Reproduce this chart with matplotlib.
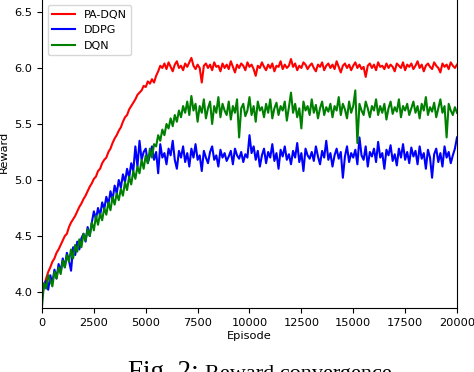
import numpy as np
import matplotlib
matplotlib.use("Agg")
import matplotlib.pyplot as plt

# episodes, one sample every 100 episodes
episodes = np.arange(0, 20001, 100)

# PA-DQN reward
reward_pa_dqn = [
    4.02, 4.06, 4.12, 4.18, 4.22, 4.27, 4.30, 4.35, 4.38, 4.42,
    4.46, 4.50, 4.52, 4.58, 4.62, 4.65, 4.68, 4.72, 4.76, 4.79,
    4.83, 4.86, 4.90, 4.94, 4.97, 5.01, 5.03, 5.08, 5.10, 5.15,
    5.18, 5.20, 5.25, 5.28, 5.33, 5.37, 5.40, 5.44, 5.47, 5.52,
    5.56, 5.58, 5.63, 5.66, 5.69, 5.72, 5.76, 5.78, 5.80, 5.84,
    5.83, 5.88, 5.86, 5.90, 5.87, 5.93, 5.97, 6.02,
    6.00, 6.04, 5.99, 6.05, 6.01, 5.97, 6.03, 6.06, 6.00, 6.02, 5.98, 6.04,
    6.01, 6.05, 6.09, 6.02, 5.99, 6.03, 6.00, 5.87, 6.02, 6.04,
    6.00, 6.03, 5.98, 6.05, 6.01, 6.02, 5.97, 6.04, 6.00, 6.03,
    5.99, 6.06, 6.01, 5.96, 6.03, 6.00, 6.04, 6.02, 5.98, 6.05,
    6.01, 6.03, 5.99, 5.93, 6.02, 6.00, 6.05, 6.01, 5.98, 6.03,
    6.00, 6.04, 5.97, 6.02, 6.01, 6.06, 5.99, 6.03, 6.00, 6.02,
    6.08, 6.01, 6.04, 5.98, 6.02, 6.00, 6.05, 6.03, 5.99, 6.02,
    6.04, 6.00, 5.97, 6.03, 6.01, 6.05, 5.98, 6.02, 6.04, 6.00,
    6.03, 5.99, 6.06, 6.01, 5.96, 6.02, 6.04, 6.00, 6.03, 5.98,
    6.02, 6.05, 6.00, 6.03, 5.99, 6.01, 5.92, 6.02, 6.04, 6.00,
    6.03, 5.98, 6.05, 6.01, 6.02, 5.99, 6.04, 6.00, 6.03, 6.01,
    5.97, 6.04, 6.02, 6.00, 6.05, 5.98, 6.03, 6.01, 6.04, 5.99,
    6.02, 6.06, 6.00, 6.03, 5.97, 6.02, 6.04, 6.01, 5.99, 6.05,
    6.02, 6.00, 5.96, 6.04, 6.01, 6.03, 5.99, 6.05, 6.02, 6.00, 6.03,
]

# DDPG reward
reward_ddpg = [
    3.97, 4.05, 4.10, 4.02, 4.15, 4.08, 4.20, 4.12, 4.25, 4.18,
    4.30, 4.22, 4.35, 4.28, 4.19, 4.40, 4.33, 4.45, 4.38, 4.48,
    4.52, 4.45, 4.58, 4.50, 4.62, 4.72, 4.65, 4.75, 4.68, 4.80,
    4.74, 4.85, 4.78, 4.90, 4.82, 4.95, 4.88, 5.00, 4.93, 5.05,
    4.98, 5.10, 5.02, 5.15, 5.08, 5.30, 5.12, 5.35, 5.18, 5.25,
    5.28, 5.15, 5.22, 5.30, 5.18, 5.25, 5.06, 5.32, 5.20, 5.24,
    5.14, 5.28, 5.22, 5.35, 5.18, 5.10, 5.26, 5.20, 5.30, 5.16,
    5.24, 5.12, 5.28, 5.20, 5.32, 5.18, 5.22, 5.08, 5.26, 5.20,
    5.15, 5.25, 5.30, 5.18, 5.22, 5.12, 5.27, 5.20, 5.24, 5.17,
    5.21, 5.26, 5.14, 5.28, 5.22, 5.19, 5.25, 5.16, 5.23, 5.20,
    5.40, 5.24, 5.30, 5.18, 5.26, 5.12, 5.22, 5.28, 5.15, 5.25,
    5.20, 5.32, 5.17, 5.24, 5.10, 5.27, 5.21, 5.30, 5.18, 5.23,
    5.14, 5.26, 5.20, 5.33, 5.16, 5.24, 5.08, 5.28, 5.22, 5.19,
    5.25, 5.17, 5.30, 5.21, 5.14, 5.26, 5.20, 5.35, 5.18, 5.24,
    5.12, 5.22, 5.28, 5.19, 5.25, 5.02, 5.21, 5.30, 5.16, 5.24,
    5.20, 5.27, 5.14, 5.38, 5.22, 5.18, 5.30, 5.12, 5.25, 5.21,
    5.28, 5.16, 5.34, 5.20, 5.24, 5.10, 5.27, 5.22, 5.31, 5.17,
    5.23, 5.13, 5.28, 5.20, 5.32, 5.18, 5.25, 5.15, 5.29, 5.21,
    5.26, 5.14, 5.30, 5.19, 5.24, 5.10, 5.27, 5.20, 5.02, 5.23,
    5.28, 5.16, 5.24, 5.12, 5.30, 5.20, 5.25, 5.15, 5.22, 5.28, 5.38,
]

# DQN reward
reward_dqn = [
    3.87, 4.08, 4.03, 4.15, 4.10, 4.05, 4.18, 4.12, 4.22, 4.16,
    4.28, 4.22, 4.33, 4.27, 4.38, 4.30, 4.42, 4.36, 4.47, 4.40,
    4.52, 4.46, 4.56, 4.50, 4.62, 4.55, 4.68, 4.60, 4.70, 4.64,
    4.75, 4.69, 4.80, 4.73, 4.85, 4.78, 4.88, 4.82, 4.92, 4.86,
    4.98, 4.91, 5.03, 4.96, 5.08, 5.01, 5.12, 5.06, 5.18, 5.10,
    5.22, 5.15, 5.28, 5.20, 5.32, 5.30, 5.40, 5.35, 5.45, 5.40,
    5.50, 5.46, 5.55, 5.48, 5.58, 5.52, 5.62, 5.56, 5.66, 5.60,
    5.70, 5.58, 5.75, 5.62, 5.68, 5.52, 5.66, 5.60, 5.72, 5.55,
    5.64, 5.70, 5.50, 5.66, 5.60, 5.74, 5.56, 5.68, 5.62, 5.58,
    5.70, 5.54, 5.66, 5.60, 5.72, 5.38, 5.64, 5.68, 5.57, 5.62,
    5.74, 5.58, 5.66, 5.52, 5.70, 5.62, 5.65, 5.56, 5.68, 5.60,
    5.72, 5.55, 5.64, 5.69, 5.58, 5.66, 5.62, 5.70, 5.53, 5.65,
    5.78, 5.60, 5.68, 5.56, 5.64, 5.46, 5.70, 5.62, 5.66, 5.58,
    5.72, 5.60, 5.67, 5.55, 5.64, 5.70, 5.58, 5.65, 5.61, 5.68,
    5.56, 5.66, 5.62, 5.74, 5.58, 5.68, 5.63, 5.55, 5.70, 5.60,
    5.66, 5.80, 5.33, 5.68, 5.62, 5.58, 5.70, 5.64, 5.56, 5.66,
    5.62, 5.72, 5.58, 5.66, 5.60, 5.68, 5.54, 5.64, 5.70, 5.59,
    5.65, 5.61, 5.72, 5.56, 5.66, 5.62, 5.68, 5.58, 5.64, 5.70,
    5.60, 5.66, 5.55, 5.68, 5.62, 5.74, 5.58, 5.65, 5.61, 5.69,
    5.56, 5.64, 5.72, 5.60, 5.66, 5.38, 5.68, 5.62, 5.58, 5.65, 5.60,
]

labels = ["PA-DQN", "DDPG", "DQN"]
colors = ["red", "blue", "green"]

fig = plt.figure(figsize=(4.74, 3.72), dpi=100)
# axes top runs past the top edge, like the cropped original
ax = fig.add_axes([0.0886, 0.172, 0.8755, 0.841])

for series, lab, col in zip([reward_pa_dqn, reward_ddpg, reward_dqn], labels, colors):
    ax.plot(episodes[:len(series)], series, color=col, lw=1.5, label=lab)

ax.set_xlim(0, 20000)
ax.set_ylim(3.857, 6.65)
ax.set_xticks(np.arange(0, 20001, 2500))
ax.set_yticks(np.arange(4.0, 6.51, 0.5))
ax.tick_params(labelsize=8.2, length=3.5)
ax.set_xlabel("Episode", fontsize=8.2, labelpad=2)
ax.set_ylabel("Reward", fontsize=8.2, labelpad=4)

ax.legend(loc="upper left", bbox_to_anchor=(0.0145, 0.968), borderaxespad=0,
          fontsize=8)

# caption, cut off by the bottom edge
fig.text(128 / 474, -0.0175, "Fig. 2:", family="Liberation Serif",
         fontsize=19.5, va="baseline", ha="left")
fig.text(205 / 474, -0.0175, "Reward convergence", family="Liberation Serif",
         fontsize=16, va="baseline", ha="left")

fig.savefig("out.png", dpi=100)
